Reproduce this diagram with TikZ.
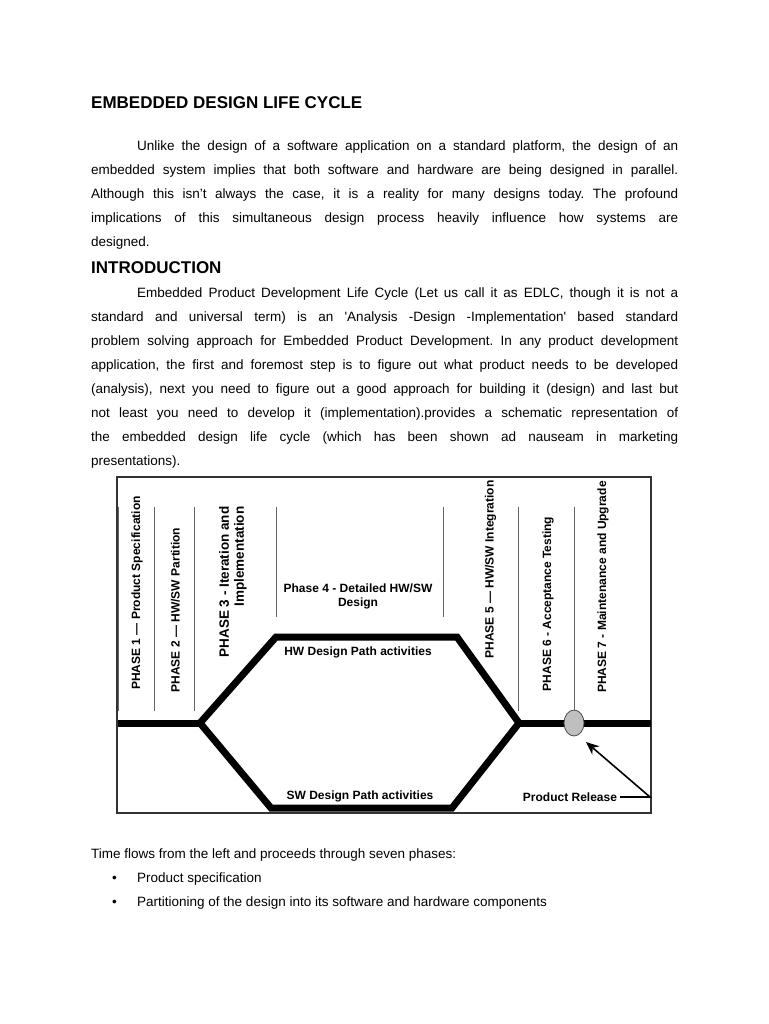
\documentclass[tikz,border=0pt]{standalone}
\usepackage{fontspec}
\setmainfont{Liberation Sans}
\usetikzlibrary{arrows.meta,positioning,shapes.geometric}
\frenchspacing

\begin{document}
\begin{tikzpicture}[x=1pt,y=-1pt,>=Stealth,
    heading/.style={anchor=base west,inner sep=0pt,font=\bfseries\fontsize{17}{20}\selectfont},
    body/.style={anchor=north west,inner sep=0pt,text width=587pt,align=justify,
      font=\fontsize{13.5}{24}\selectfont},
    plain line/.style={anchor=base west,inner sep=0pt,font=\fontsize{13.5}{24}\selectfont},
    phase/.style={rotate=90,inner sep=0pt,font=\bfseries\fontsize{12}{14}\selectfont},
    path text/.style={inner sep=0pt,font=\bfseries\fontsize{12}{14}\selectfont},
    divider/.style={draw=black!60,line width=0.9pt},
    design path/.style={line width=7pt,line join=miter},
    box/.style={draw=black!80,line width=1.1pt}]

  \fill[white] (0,0) rectangle (768,1024);
  \useasboundingbox (0,0) rectangle (768,1024);

  % text above the figure
  \node[heading] (title) at (91,109) {EMBEDDED DESIGN LIFE CYCLE};
  \node[body] (para1) at (91,133.2) {\strut\hspace*{46pt}Unlike the design of a software
    application on a standard platform, the design of an\linebreak embedded system implies
    that both software and hardware are being designed in parallel.\linebreak Although this
    isn’t always the case, it is a reality for many designs today. The profound\linebreak
    implications of this simultaneous design process heavily influence how systems
    are\linebreak designed.};
  \node[heading] (intro) at (91,273) {INTRODUCTION};
  \node[body] (para2) at (91,280.2) {\strut\hspace*{46pt}Embedded Product Development Life
    Cycle (Let us call it as EDLC, though it is not a\linebreak standard and universal term)
    is an \textquotesingle Analysis -Design -Implementation\textquotesingle{} based
    standard\linebreak problem solving approach for Embedded Product Development. In any
    product development\linebreak application, the first and foremost step is to figure out
    what product needs to be developed\linebreak (analysis), next you need to figure out a
    good approach for building it (design) and last but\linebreak not least you need to
    develop it (implementation).provides a schematic representation of\linebreak the
    embedded design life cycle (which has been shown ad nauseam in marketing\linebreak
    presentations).};

  % the life cycle figure
  \draw[box] (117,477) rectangle (651,813);

  \coordinate (in) at (117.5,723);
  \coordinate (split) at (200,723);
  \coordinate (hw left) at (276,637);
  \coordinate (hw right) at (457,637);
  \coordinate (merge) at (519,723);
  \coordinate (sw right) at (452,808);
  \coordinate (sw left) at (271,808);
  \coordinate (out) at (650.5,723);

  \draw[design path] (in) -- (split);
  \draw[design path] (merge) -- (out);
  \draw[design path] (split) -- (hw left) -- (hw right) -- (merge)
    -- (sw right) -- (sw left) -- cycle;

  \foreach \x/\yb in {118/711,154/711,194/711,276/617,443/617,518/711}
    \draw[divider] (\x,507) -- (\x,\yb);

  \node[ellipse,draw=black!70,fill=black!25,line width=0.8pt,minimum width=20pt,
    minimum height=26pt,inner sep=0pt] (release) at (574,723) {};
  \draw[divider] (574,507) -- (release.north);

  \node[phase] (ph1) at (137,593) {PHASE 1 — Product Specification};
  \node[phase] (ph2) at (175.5,610) {PHASE 2 — HW/SW Partition};
  \node[phase,align=right,font=\bfseries\fontsize{13.5}{15}\selectfont] (ph3) at (233,582)
    {PHASE 3 - Iteration and\\Implementation};
  \node[path text,align=center] (ph4) at (358,596) {Phase 4 - Detailed HW/SW\\Design};
  \node[phase] (ph5) at (490.5,569.5) {PHASE 5 — HW/SW Integration};
  \node[phase] (ph6) at (548,604) {PHASE 6 - Acceptance Testing};
  \node[phase] (ph7) at (603,587) {PHASE 7 - Maintenance and Upgrade};

  \node[path text] (hw) at (358,652) {HW Design Path activities};
  \node[path text] (sw) at (360,796) {SW Design Path activities};
  \node[path text,inner xsep=3pt] (pr) at (570,797) {Product Release};

  \coordinate (bend) at (650,797);
  \coordinate (tip) at (586,742);
  \draw[-{Stealth[length=13pt,width=11pt]},line width=1.6pt] (pr.east) -- (bend) -- (tip);

  % text below the figure
  \node[plain line] (flow) at (91,858) {Time flows from the left and proceeds through seven phases:};
  \node[plain line] (dot1) at (112,882) {\textbullet};
  \node[plain line] (item1) at (137,882) {Product specification};
  \node[plain line] (dot2) at (112,906) {\textbullet};
  \node[plain line] (item2) at (137,906) {Partitioning of the design into its software and hardware components};
\end{tikzpicture}
\end{document}
